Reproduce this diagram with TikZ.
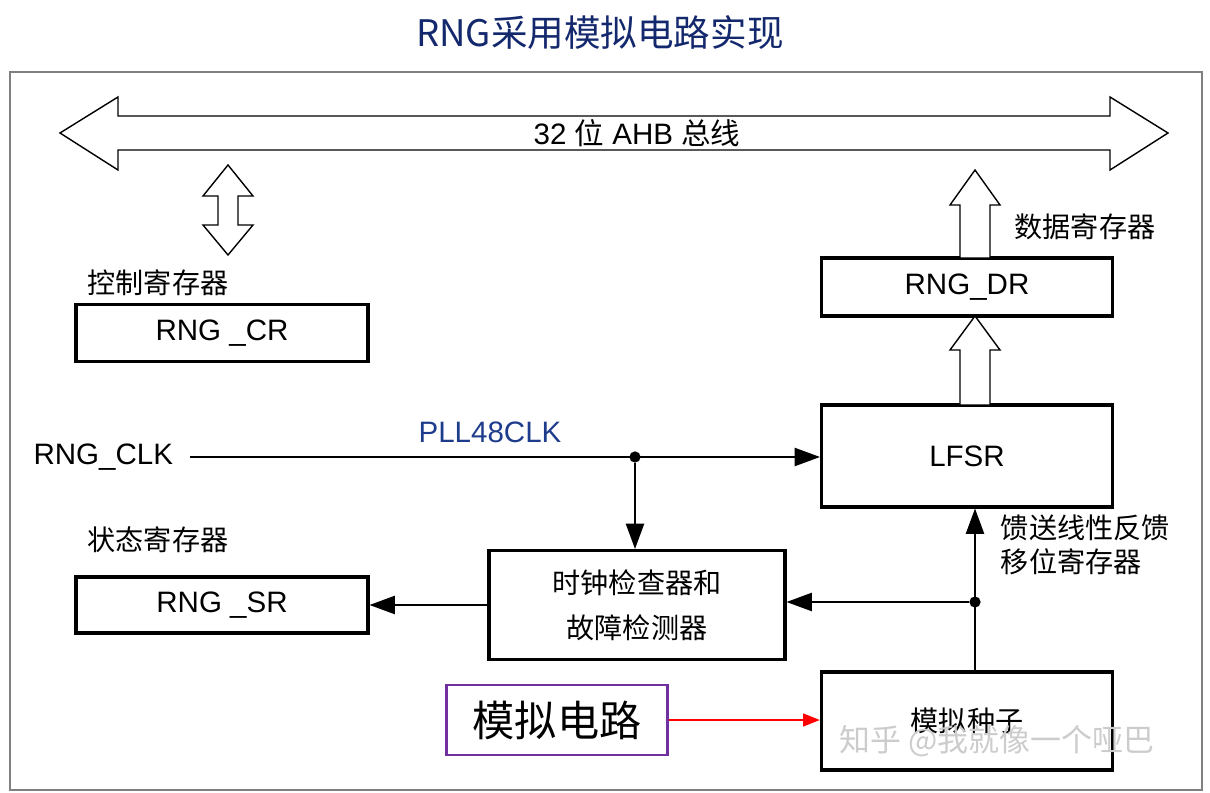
\documentclass[tikz,border=0pt]{standalone}
\usepackage{fontspec}
\setmainfont{Liberation Sans}
\newfontfamily\cjk{Noto Sans CJK SC}
\usetikzlibrary{arrows.meta}
\definecolor{titleblue}{RGB}{20,40,110}
\definecolor{clkblue}{RGB}{30,60,140}
\definecolor{anapurple}{RGB}{112,48,160}
\begin{document}
\begin{tikzpicture}[x=0.025cm,y=-0.025cm,line join=miter]
	\tikzstyle{reg}=[draw,line width=2.2pt,inner sep=0pt,font=\fontsize{21}{23}\selectfont];
	\tikzstyle{lbl}=[font=\cjk\fontsize{20}{24}\selectfont];
	\tikzstyle{hollow}=[draw,line width=1pt,fill=white];
	\tikzstyle{sig}=[draw,line width=1pt,-{Triangle[length=18pt,width=13pt]}];
	\tikzstyle{dot}=[circle,fill,inner sep=0pt,minimum size=8pt];

	\useasboundingbox (0,0) rectangle (1210,793);
	\node[font=\cjk\fontsize{26}{30}\selectfont,text=titleblue] (title) at (600,33) {RNG采用模拟电路实现};
	\draw[gray,line width=0.8pt] (10,72) rectangle (1202,790);

	% bus
	\draw[hollow] (60,133) -- (118,97) -- (118,116) -- (1110,116) -- (1110,97) -- (1168,133)
		-- (1110,170) -- (1110,150) -- (118,150) -- (118,170) -- cycle;
	\node[font=\fontsize{21}{23}\selectfont] (bus) at (637,133) {32 {\cjk 位} AHB {\cjk 总线}};
	\draw[hollow] (228,165) -- (253,196) -- (238,196) -- (238,225) -- (253,225) -- (228,255)
		-- (203,225) -- (218,225) -- (218,196) -- (203,196) -- cycle;

	% registers
	\node[lbl] (crl) at (158,283) {控制寄存器};
	\node[reg,minimum width=292*0.025cm,minimum height=57*0.025cm] (cr) at (222,333) {RNG \_CR};
	\node[lbl] (srl) at (158,540) {状态寄存器};
	\node[reg,minimum width=292*0.025cm,minimum height=56*0.025cm] (sr) at (222,605) {RNG \_SR};
	\node[lbl] (drl) at (1085,227) {数据寄存器};
	\node[reg,minimum width=291*0.025cm,minimum height=58*0.025cm] (dr) at (967,287) {RNG\_DR};
	\node[reg,minimum width=291*0.025cm,minimum height=102*0.025cm] (lfsr) at (967,456) {LFSR};
	\node[reg,minimum width=296*0.025cm,minimum height=109*0.025cm,font=\cjk\fontsize{20}{32}\selectfont,align=center] (chk) at (637,605) {时钟检查器和\\故障检测器};
	\node[reg,minimum width=291*0.025cm,minimum height=98*0.025cm,font=\cjk\fontsize{20}{24}\selectfont] (seed) at (967,721) {模拟种子};
	\node[draw=anapurple,line width=1.6pt,minimum width=221*0.025cm,minimum height=70*0.025cm,font=\cjk\fontsize{30}{34}\selectfont] (ana) at (557,720) {模拟电路};

	% data path
	\draw[hollow] (975,170) -- (1000,205) -- (990,205) -- (990,258) -- (960,258) -- (960,205) -- (950,205) -- cycle;
	\draw[hollow] (975,316) -- (1000,350) -- (990,350) -- (990,405) -- (960,405) -- (960,350) -- (950,350) -- cycle;

	% clock
	\node[font=\fontsize{21}{23}\selectfont,anchor=east] (clk) at (178,457) {RNG\_CLK};
	\node[font=\fontsize{21}{23}\selectfont,text=clkblue] (pll) at (490,432) {PLL48CLK};
	\node[dot] (d1) at (635,457) {};
	\draw[sig] (clk.east) ++(12,0) -- (lfsr.west |- clk);
	\draw[sig] (d1) -- (chk.north -| d1);
	\draw[sig] (chk.west |- sr) -- (sr.east);

	% seed
	\node[dot] (d2) at (975,602) {};
	\draw[sig] (seed.north -| d2) -- (lfsr.south -| d2);
	\draw[sig] (d2) -- (chk.east |- d2);
	\draw[red,line width=1.8pt,-{Triangle[length=12pt,width=9pt]}] (ana.east) -- (seed.west |- ana);
	\node[lbl,align=left,anchor=west] (fb) at (996,545) {馈送线性反馈\\移位寄存器};

	\node[font=\cjk\fontsize{22}{24}\selectfont,text=gray!40] (wm) at (997,741) {知乎 @我就像一个哑巴};
\end{tikzpicture}
\end{document}
